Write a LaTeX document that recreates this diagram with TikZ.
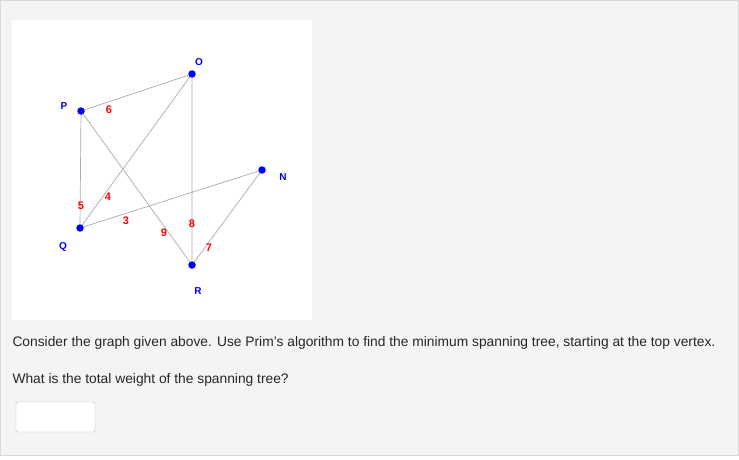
\documentclass[tikz,border=0pt]{standalone}
\usepackage{fontspec}
\setmainfont{Liberation Sans}
\begin{document}
\begin{tikzpicture}[x=1pt,y=-1pt,
  vert/.style={circle,fill=blue,inner sep=0pt,minimum size=7.5pt},
  edge/.style={draw=gray!65,line width=0.7pt},
  vlab/.style={text=blue!90!black,font=\fontsize{10}{10}\selectfont\bfseries},
  wlab/.style={text=red,font=\fontsize{11}{11}\selectfont\bfseries},
  txt/.style={anchor=west,font=\fontsize{13.8}{15}\selectfont,text=black!85}]
\useasboundingbox (0,0) rectangle (739,460);
\fill[fill=black!4.5,draw=black!15] (0.5,0.5) rectangle (738.5,455);
\fill[white] (12,20) rectangle (312,320);
\node[vert] (O) at (192,74) {};
\node[vert] (P) at (81,111) {};
\node[vert] (N) at (262,170) {};
\node[vert] (Q) at (80,228) {};
\node[vert] (R) at (192,265) {};
\draw[edge] (P)--(O) (Q)--(O) (P)--(Q) (P)--(R) (O)--(R) (Q)--(N) (N)--(R);
\node[vlab] (lO) at (199,62) {O};
\node[vlab] (lP) at (64,106) {P};
\node[vlab] (lN) at (283,177) {N};
\node[vlab] (lQ) at (63,247) {Q};
\node[vlab] (lR) at (198,291) {R};
\node[wlab] (w6) at (109,110) {6};
\node[wlab] (w4) at (108,197) {4};
\node[wlab] (w5) at (81,206) {5};
\node[wlab] (w3) at (126,221) {3};
\node[wlab] (w9) at (164,233) {9};
\node[wlab] (w8) at (192,224) {8};
\node[wlab] (w7) at (209,248) {7};
\node[txt] (t1) at (9,343) {Consider the graph given above. Use Prim's algorithm to find the minimum spanning tree, starting at the top vertex.};
\node[txt] (t2) at (9,380) {What is the total weight of the spanning tree?};
\draw[draw=black!25,fill=white,rounded corners=2pt] (16,402) rectangle (95,432);
\end{tikzpicture}
\end{document}
